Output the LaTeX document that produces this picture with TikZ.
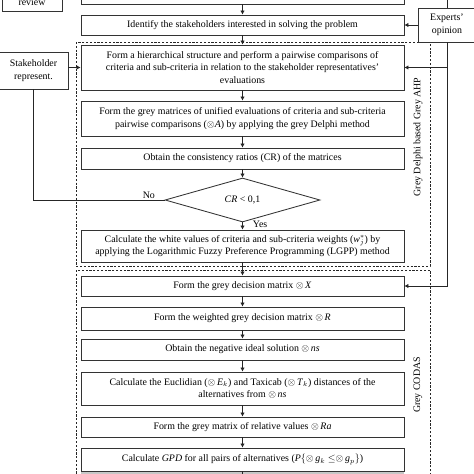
\documentclass[tikz,border=0pt]{standalone}
\usepackage{fontspec}
\setmainfont{Liberation Serif}
\usetikzlibrary{arrows.meta,shapes.geometric}
\newcommand{\gx}[1]{$\otimes$\,\textit{#1}}
\begin{document}
\begin{tikzpicture}[x=1pt,y=-1pt, font=\fontsize{9.9}{12.5}\selectfont,
  box/.style={draw=black!80, line width=0.85pt, fill=white, minimum width=323pt, inner sep=0pt, align=center},
  side/.style={draw=black!80, line width=0.85pt, fill=white, inner sep=0pt, align=center},
  arr/.style={draw=black!85, line width=0.75pt, -{Latex[length=4pt,width=4.5pt]}},
  ln/.style={draw=black!85, line width=0.75pt},
  grp/.style={draw=black!85, line width=0.8pt, dash pattern=on 2.2pt off 1.6pt},
  lab/.style={rotate=90, inner sep=0pt}]
\useasboundingbox (0,0) rectangle (474,474);
\clip (0,0) rectangle (474,474);
% groups
\draw[grp] (76,42) rectangle (430,266);
\draw[grp] (76,270) rectangle (430,490);
\node[lab] (labA) at (418,137) {Grey Delphi based Grey AHP};
\node[lab] (labB) at (418,385) {Grey CODAS};
% main boxes
\node[box, minimum height=24pt] (top) at (242.5,-8) {};
\node[side, minimum width=60pt, minimum height=30pt] (lit) at (32,-4) {Literature\\review};
\node[box, minimum height=20pt] (ident) at (242.5,25) {Identify the stakeholders interested in solving the problem};
\node[box, minimum height=45pt] (hier) at (242.5,67.5) {Form a hierarchical structure and perform a pairwise comparisons of\\criteria and sub-criteria in relation to the stakeholder representatives'\\evaluations};
\node[box, minimum height=35pt] (gmat) at (242.5,118.5) {Form the grey matrices of unified evaluations of criteria and sub-criteria\\pairwise comparisons ($\otimes$\textit{A}) by applying the grey Delphi method};
\node[box, minimum height=21pt] (cr) at (242.5,158.5) {Obtain the consistency ratios (CR) of the matrices};
\node[diamond, draw=black!80, line width=0.85pt, fill=white, minimum width=155pt, minimum height=44pt, inner sep=0pt] (dec) at (242.5,200) {\textit{CR} < 0,1};
\node[box, minimum height=32pt] (white) at (242.5,246) {Calculate the white values of criteria and sub-criteria weights (\textit{w}$_j^{*}$) by\\applying the Logarithmic Fuzzy Preference Programming (LGPP) method};
\node[box, minimum height=20pt] (gdm) at (242.5,286) {Form the grey decision matrix \gx{X}};
\node[box, minimum height=23pt] (wgdm) at (242.5,318.5) {Form the weighted grey decision matrix \gx{R}};
\node[box, minimum height=21pt] (nis) at (242.5,349.5) {Obtain the negative ideal solution \gx{ns}};
\node[box, minimum height=33pt] (dist) at (242.5,388.5) {Calculate the Euclidian (\gx{E}$_k$) and Taxicab (\gx{T}$_k$) distances of the\\alternatives from \gx{ns}};
\node[box, minimum height=20pt] (rel) at (242.5,427) {Form the grey matrix of relative values \gx{Ra}};
\node[box, minimum height=23pt] (gpd) at (242.5,459.5) {Calculate \textit{GPD} for all pairs of alternatives (\textit{P}$\{$\gx{g}$_k\leq$\gx{g}$_p\}$)};
\node[box, draw=none, fill=black!22, minimum height=20pt] (next) at (242.5,482) {};
% side boxes
\node[side, minimum width=58pt, minimum height=34pt] (exp) at (447,25) {Experts'\\opinion};
\node[side, minimum width=69pt, minimum height=37pt] (stake) at (33.5,70.5) {Stakeholder\\represent.};
% main flow
\draw[arr] (top) -- (ident);
\draw[arr] (ident) -- (hier);
\draw[arr] (hier) -- (gmat);
\draw[arr] (gmat) -- (cr);
\draw[arr] (cr) -- (dec);
\draw[arr] (dec) -- node[pos=0.25, right, xshift=8pt, inner sep=2pt] {Yes} (white);
\draw[arr] (white) -- (gdm);
\draw[arr] (gdm) -- (wgdm);
\draw[arr] (wgdm) -- (nis);
\draw[arr] (nis) -- (dist);
\draw[arr] (dist) -- (rel);
\draw[arr] (rel) -- (gpd);
\draw[ln] (gpd) -- (next.center);
% side connections
\coordinate (expup) at (447,-10);
\draw[ln] (exp.north) -- (expup);
\draw[arr] (ident.east -| exp.west) -- (ident.east);
\draw[arr] (exp.south) -- (exp.south |- hier.east) -- (hier.east);
\draw[arr] (exp.south |- hier.east) -- (exp.south |- gdm.east) -- (gdm.east);
\draw[arr] (hier.west -| stake.east) -- (hier.west);
\draw[ln] (stake.south) -- (stake.south |- dec.west) -- node[pos=0.88, above, inner sep=1.5pt] {No} (dec.west);
\end{tikzpicture}
\end{document}
